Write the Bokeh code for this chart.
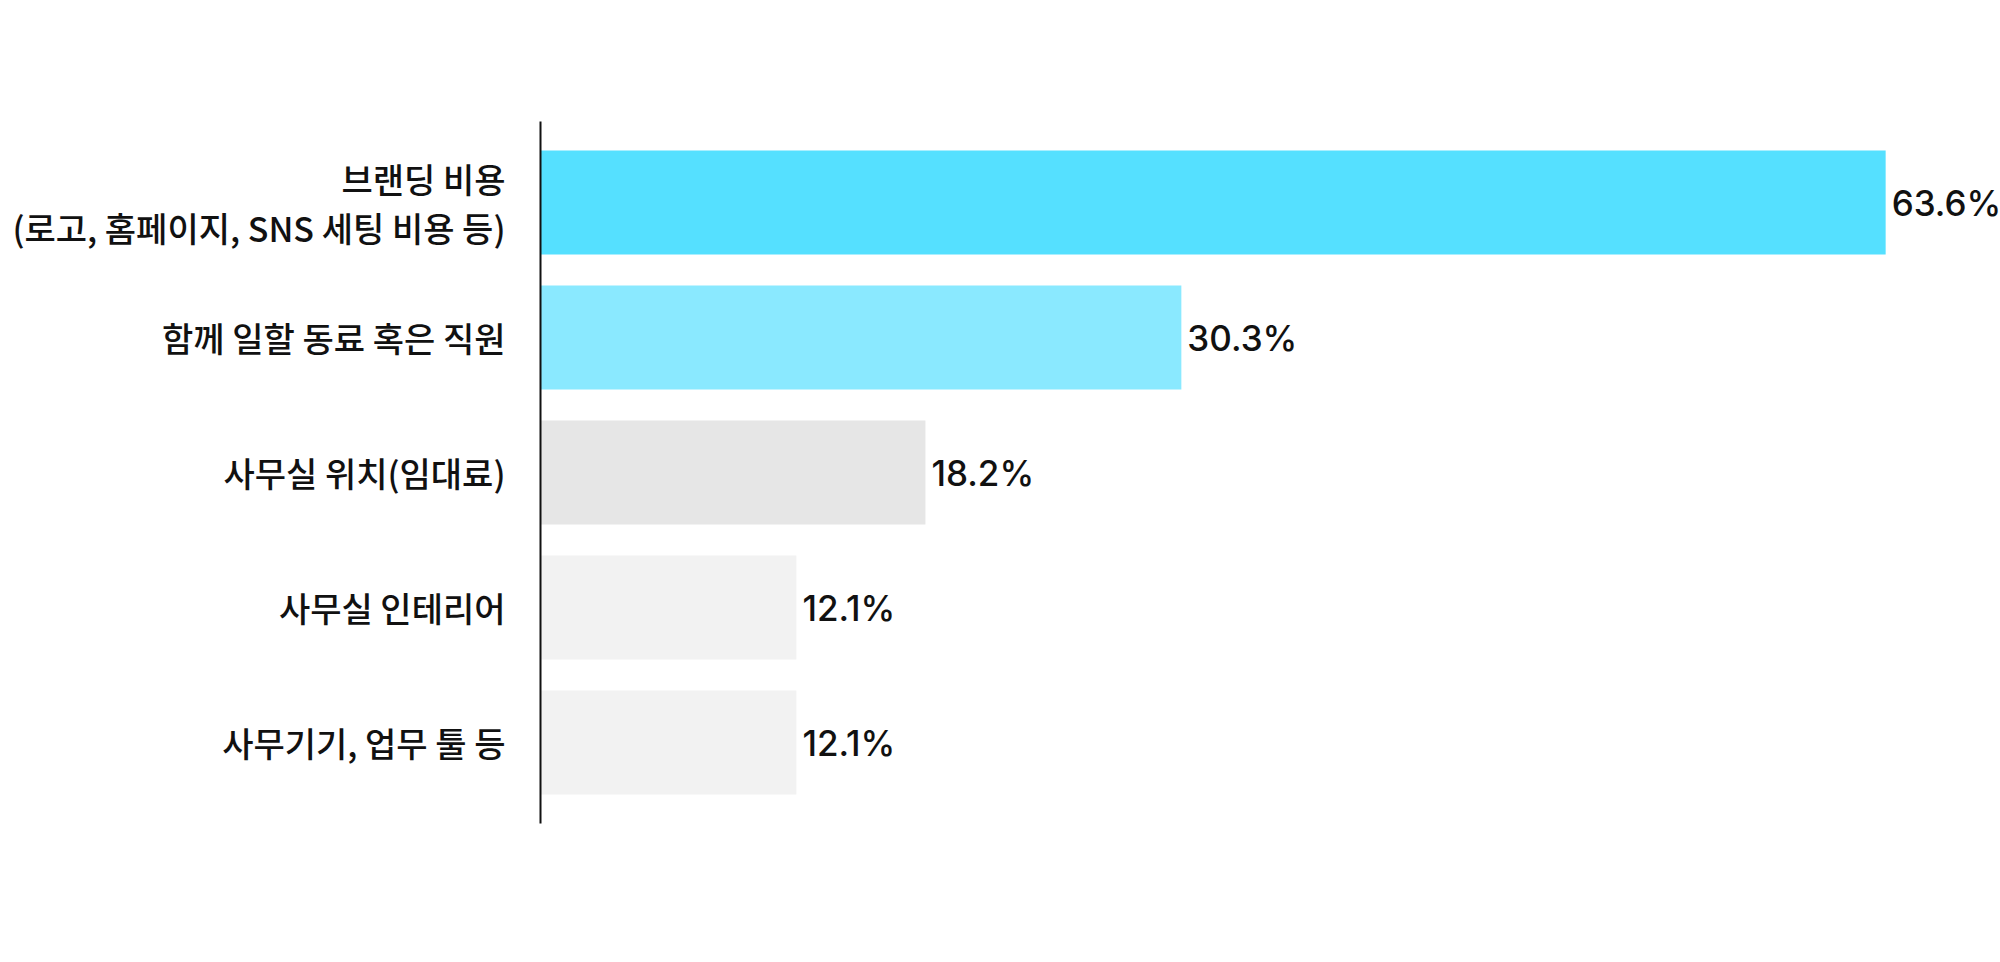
from bokeh.plotting import figure
from bokeh.models import FactorRange, Range1d, ColumnDataSource
from bokeh.core.properties import value
from bokeh.embed import file_html
from bokeh.resources import INLINE

categories = [
    "브랜딩 비용\n(로고, 홈페이지, SNS 세팅 비용 등)",
    "함께 일할 동료 혹은 직원",
    "사무실 위치(임대료)",
    "사무실 인테리어",
    "사무기기, 업무 툴 등",
]
values = [63.6, 30.3, 18.2, 12.1, 12.1]
value_labels = [f"{v:.1f}%" for v in values]
bar_colors = ["#55E0FF", "#8AE9FF", "#E6E6E6", "#F2F2F2", "#F2F2F2"]

source = ColumnDataSource(dict(cat=categories, val=values, lab=value_labels, color=bar_colors))

p = figure(
    width=2000, height=962,
    y_range=FactorRange(factors=list(reversed(categories)), range_padding=0.04, range_padding_units="percent"),
    x_range=Range1d(0, 69.03),
    output_backend="svg", toolbar_location=None,
    min_border_left=540, min_border_right=0, min_border_top=121, min_border_bottom=139,
)
p.hbar(y="cat", right="val", left=0, height=0.77, color="color", line_color=None, source=source)
p.text(x="val", y="cat", text="lab", source=source, x_offset=6,
       text_align="left", text_baseline="middle",
       text_font=value("Inter Medium"), text_font_size="35px", text_color="#111111")

p.xaxis.visible = False
p.xgrid.visible = False
p.ygrid.visible = False
p.outline_line_color = None
yax = p.yaxis[0]
yax.axis_line_color = "#111111"
yax.axis_line_width = 2
yax.major_tick_line_color = None
yax.minor_tick_line_color = None
yax.major_label_standoff = 29
yax.major_label_text_font = "Noto Sans CJK KR Medium"
yax.major_label_text_font_style = "normal"
yax.major_label_text_font_size = "34px"
yax.major_label_text_color = "#111111"
yax.major_label_text_line_height = 1.0

open("out.html", "w").write(file_html(p, INLINE))
